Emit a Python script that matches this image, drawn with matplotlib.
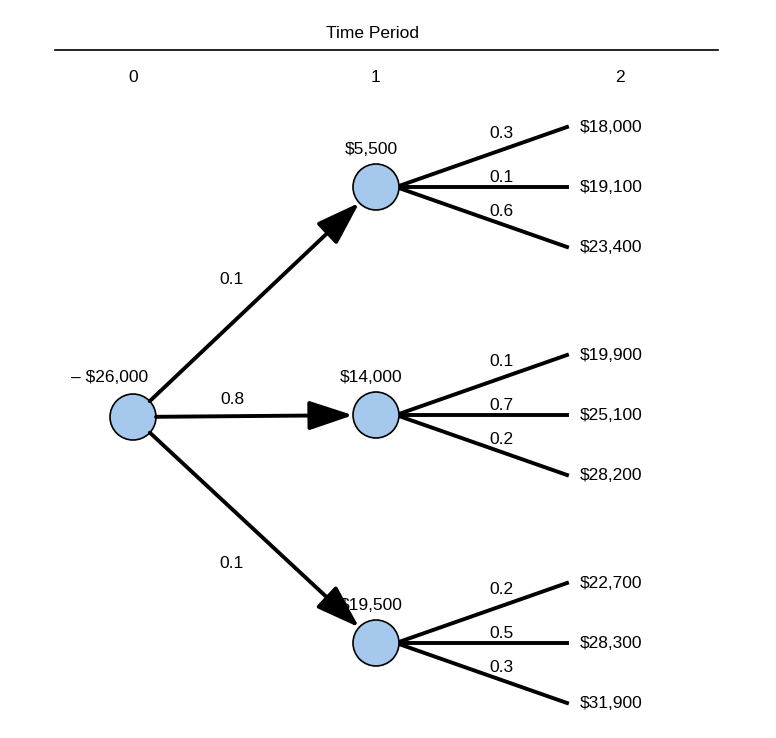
import matplotlib
matplotlib.use("Agg")
import matplotlib.pyplot as plt
import numpy as np

periods = ["0", "1", "2"]
root_cash = "\u2013 $26,000"
stage1_probs = ["0.1", "0.8", "0.1"]
stage1_cash = ["$5,500", "$14,000", "$19,500"]
stage2_probs = [["0.3", "0.1", "0.6"], ["0.1", "0.7", "0.2"], ["0.2", "0.5", "0.3"]]
stage2_cash = [["$18,000", "$19,100", "$23,400"],
               ["$19,900", "$25,100", "$28,200"],
               ["$22,700", "$28,300", "$31,900"]]

# layout in pixel space
col_x = [133, 376, 620]
end_x = 567
node_y = [187, 415, 643]
root_y = 417
leaf_dy = [-60, 0, 60]
leaf_lab_dy = [-54, -9, 25]
r = 23

fig = plt.figure(figsize=(7.76, 7.38), dpi=100)
ax = fig.add_axes([0, 0, 1, 1])
ax.set_xlim(0, 776)
ax.set_ylim(738, 0)
ax.axis("off")
font = dict(fontsize=12.5, family="Liberation Sans")

ax.text(373, 34, "Time Period", ha="center", va="center", **font)
ax.plot([55, 718], [50, 50], color="black", lw=1.2)
for x, p in zip(col_x, periods):
    ax.text(x, 78, p, ha="center", va="center", **font)

node_style = dict(facecolor="#a6c8ec", edgecolor="black", lw=1.2, zorder=3)
ax.add_patch(plt.Circle((col_x[0], root_y), r, **node_style))
ax.text(110, 378, root_cash, ha="center", va="center", **font)

stage1_lab_y = [280, 400, 563]
for i, y in enumerate(node_y):
    dx, dy = col_x[1] - col_x[0], y - root_y
    u = np.array([dx, dy]) / np.hypot(dx, dy)
    start = (col_x[0] + u[0] * r, root_y + u[1] * r)
    end = (col_x[1] - u[0] * r, y - u[1] * r)
    ax.annotate("", xy=end, xytext=start,
                arrowprops=dict(arrowstyle="-|>,head_length=0.9,head_width=0.3",
                                color="black", lw=2.8,
                                mutation_scale=30, shrinkA=0, shrinkB=0))
    ax.text(232, stage1_lab_y[i], stage1_probs[i], ha="center", va="center", **font)
    ax.add_patch(plt.Circle((col_x[1], y), r, **node_style))
    ax.text(col_x[1] - 5, y - 37, stage1_cash[i], ha="center", va="center", **font)
    for j in range(3):
        ax.plot([col_x[1] + 20, end_x], [y, y + leaf_dy[j]], color="black", lw=2.8, zorder=2)
        ax.text(501, y + leaf_lab_dy[j], stage2_probs[i][j], ha="center", va="center", **font)
        ax.text(580, y + leaf_dy[j], stage2_cash[i][j], ha="left", va="center", **font)

fig.savefig("out.png", dpi=100)
